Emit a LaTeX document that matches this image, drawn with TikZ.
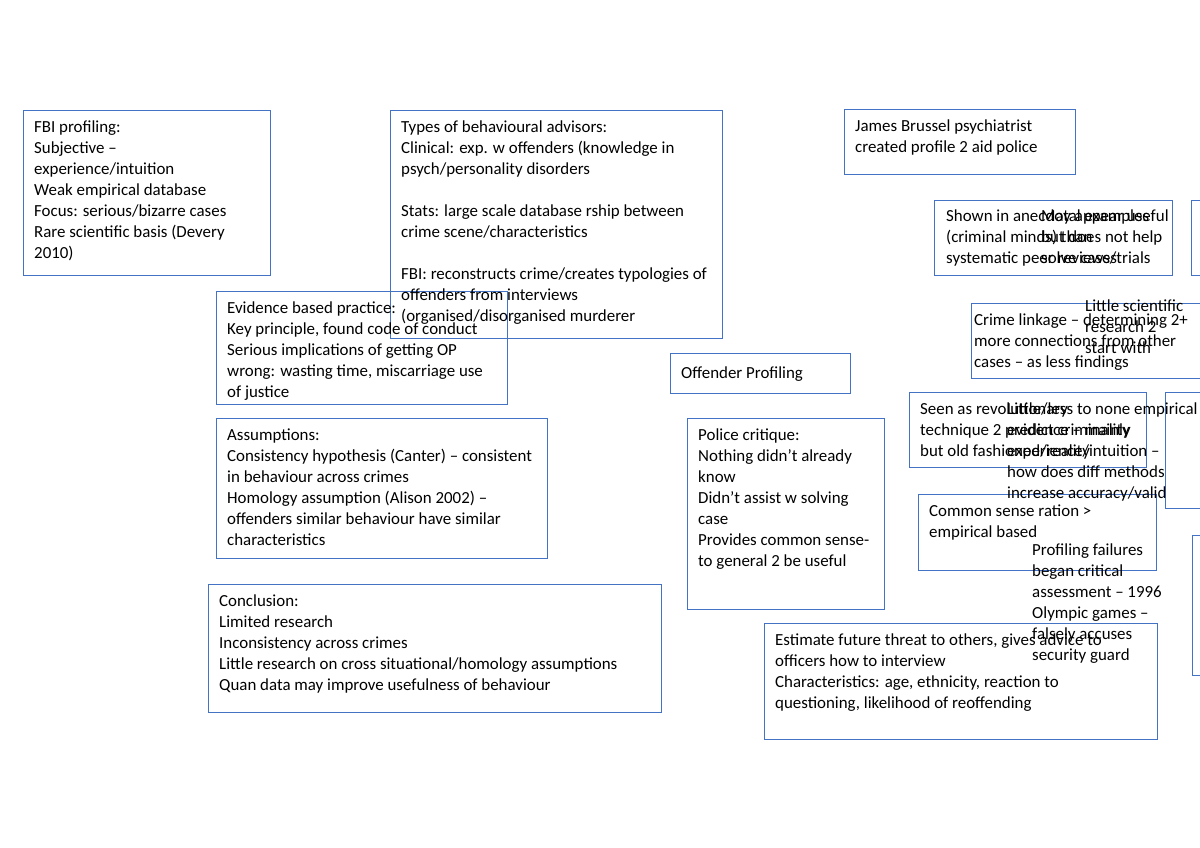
\documentclass[tikz,border=0pt]{standalone}
\usepackage{fontspec}
\setmainfont{Carlito}
\definecolor{boxblue}{HTML}{4472C4}
\tikzset{
    noteframe/.style={draw=boxblue,line width=0.9pt},
    notetext/.style={anchor=north west,inner sep=0pt,align=left,
        font=\fontsize{16.9}{21}\selectfont,execute at begin node=\strut}
}

\begin{document}
\begin{tikzpicture}[x=1pt,y=-1pt]
    \useasboundingbox (0,0) rectangle (1200,848);
    \clip (0,0) rectangle (1200,848);
    % frames of the notes
    \foreach \xa/\ya/\xb/\yb in {23/110/270/275, 390/110/722/338, 844/109/1075/174,
        216/291/507/404, 670/353/850/393, 216/418/547/558, 687/418/884/609,
        208/584/661/712, 934/200/1172/275, 1191/200/1230/275, 971/303/1230/378,
        909/392/1146/467, 1165/392/1230/508, 918/494/1156/570,
        1192/535/1230/675, 764/623/1157/739}{
        \draw[noteframe] (\xa,\ya) rectangle (\xb,\yb);
    }
    \node[notetext] (fbi) at (34,120.5) {FBI profiling:\\Subjective --\\experience/intuition\\Weak empirical database\\Focus: serious/bizarre cases\\Rare scientific basis (Devery\\2010)};
    \node[notetext] (advisors) at (401,120.5) {Types of behavioural advisors:\\Clinical: exp. w offenders (knowledge in\\psych/personality disorders\\[21pt]Stats: large scale database rship between\\crime scene/characteristics\\[21pt]FBI: reconstructs crime/creates typologies of\\offenders from interviews\\(organised/disorganised murderer};
    \node[notetext] (brussel) at (855,119.5) {James Brussel psychiatrist\\created profile 2 aid police};
    \node[notetext] (evidence) at (227,301.5) {Evidence based practice:\\Key principle, found code of conduct\\Serious implications of getting OP\\wrong: wasting time, miscarriage use\\of justice};
    \node[notetext] (profiling) at (681,363.5) {Offender Profiling};
    \node[notetext] (assumptions) at (227,428.5) {Assumptions:\\Consistency hypothesis (Canter) -- consistent\\in behaviour across crimes\\Homology assumption (Alison 2002) --\\offenders similar behaviour have similar\\characteristics};
    \node[notetext] (police) at (698,428.5) {Police critique:\\Nothing didn't already\\know\\Didn't assist w solving\\case\\Provides common sense-\\to general 2 be useful};
    \node[notetext] (conclusion) at (219,594.5) {Conclusion:\\Limited research\\Inconsistency across crimes\\Little research on cross situational/homology assumptions\\Quan data may improve usefulness of behaviour};
    \node[notetext] (anecdotal) at (946,209.5) {Shown in anecdotal examples\\(criminal minds) than\\systematic peer reviews/trials};
    \node[notetext] (useful) at (1041,209.5) {May appear useful\\but does not help\\solve cases};
    \node[notetext] (linkage) at (974,313.5) {Crime linkage -- determining 2+\\more connections from other\\cases -- as less findings};
    \node[notetext] (scientific) at (1085,299.5) {Little scientific\\research 2\\start with};
    \node[notetext] (revolution) at (920,402.5) {Seen as revolutionary\\technique 2 predict criminality\\but old fashioned/reality};
    \node[notetext] (empirical) at (1007,402.5) {Little/less to none empirical\\evidence -- mainly\\experience/intuition --\\how does diff methods\\increase accuracy/valid};
    \node[notetext] (sense) at (929,504.5) {Common sense ration >\\empirical based};
    \node[notetext] (failures) at (1032,543.5) {Profiling failures\\began critical\\assessment -- 1996\\Olympic games --\\falsely accuses\\security guard};
    \node[notetext] (threat) at (775,633.5) {Estimate future threat to others, gives advice to\\officers how to interview\\Characteristics: age, ethnicity, reaction to\\questioning, likelihood of reoffending};
\end{tikzpicture}
\end{document}
